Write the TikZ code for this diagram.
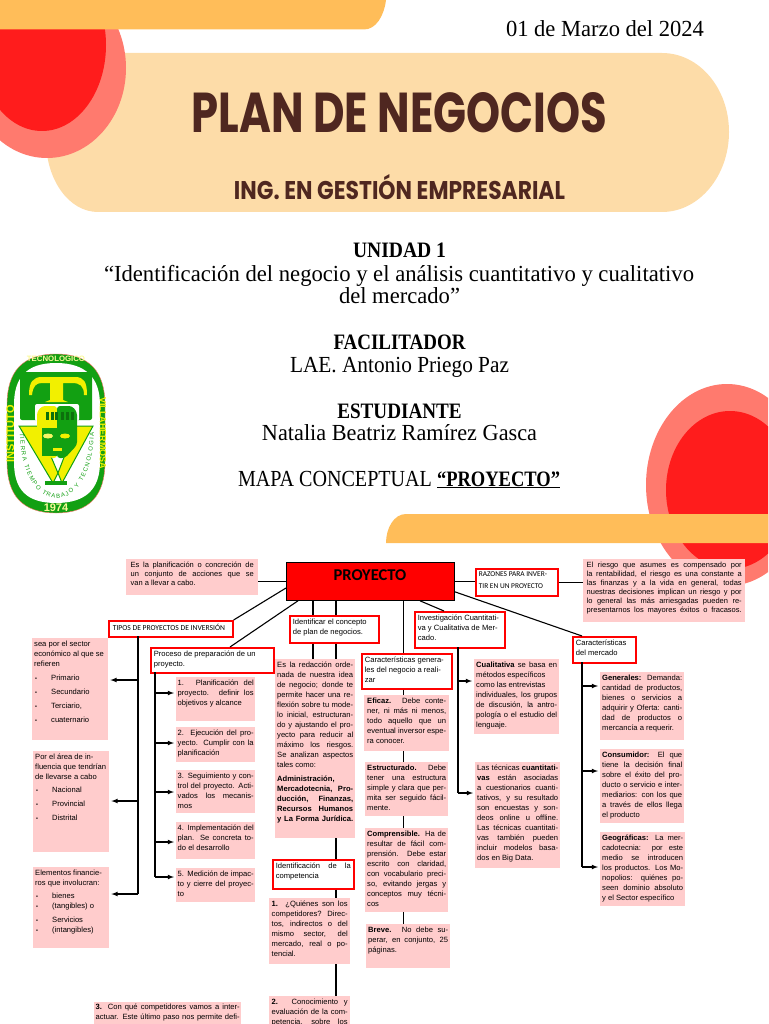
\documentclass[tikz,border=0pt]{standalone}
\usepackage{fontspec}
\usepackage{graphicx}
\usepackage{xcolor}
\usetikzlibrary{calc,decorations.text}
\setmainfont{Liberation Sans}
\newfontfamily\serifa{Liberation Serif}
\newfontfamily\calibri{Carlito}
\newfontfamily\titulo{Poppins}

\definecolor{naranja}{HTML}{FFBD59}
\definecolor{crema}{HTML}{FDDCA8}
\definecolor{salmon}{HTML}{FF7A6E}
\definecolor{rojo}{HTML}{FF1C1C}
\definecolor{rosa}{HTML}{FFCCCC}
\definecolor{cafe}{HTML}{4F2720}
\definecolor{verde}{HTML}{12A012}
\definecolor{amarillo}{HTML}{F2F000}

% one justified line of a box, one bullet line, one stretched line of the cover
\newcommand{\jl}[1]{\makebox[\linewidth][s]{#1}\par}
\newcommand{\bl}[1]{\makebox[17pt][l]{\kern1pt\fontsize{5.5}{5.5}\selectfont\textbullet}#1}
\newcommand{\ancho}[2]{\resizebox{#1pt}{\height}{#2}}

\tikzset{
  texto/.style 2 args={anchor=north west, inner xsep=3pt, inner ysep=3pt,
    font=\fontsize{7.6}{10}\selectfont, text=black,
    execute at begin node={\begin{minipage}[t][\dimexpr#2pt-6pt\relax][t]{\dimexpr#1pt-2\dimexpr\pgfkeysvalueof{/pgf/inner xsep}\relax\relax}},
    execute at end node={\end{minipage}}},
  caja/.style 2 args={texto={#1}{#2}, fill=rosa},
  marco/.style 2 args={texto={#1}{#2}, fill=white, draw=red, line width=1.6pt},
  linea/.style={black, line width=1.1pt},
  flecha/.style={linea, -latex, shorten >=2pt},
  portada/.style={anchor=base, inner sep=0pt, font=\serifa\fontsize{23}{23}\selectfont, text=black},
  negrita/.style={portada, font=\serifa\bfseries\fontsize{22}{22}\selectfont}
}

\begin{document}
\begin{tikzpicture}[x=1pt,y=-1pt]
  \clip[use as bounding box] (0,0) rectangle (768,1024);

  % Draw cover shapes
  \fill[crema] (662,53) .. controls (699,53) and (729,88) .. (729,132)
    .. controls (729,176) and (699,212) .. (662,212) -- (98,212)
    .. controls (69,212) and (46,180) .. (46,140) -- (46,53) -- cycle;
  \fill[salmon] (47,68) ellipse [x radius=79, y radius=90];
  \fill[rojo] (42,45) ellipse [x radius=64, y radius=86];
  \fill[naranja] (0,0) -- (386,0) .. controls (384,16) and (376,29.5) .. (364,29.5) -- (0,29.5) -- cycle;
  \fill[salmon] (727,485) ellipse [x radius=81, y radius=101];
  \fill[rojo] (730,490) ellipse [x radius=64, y radius=79];
  \fill[naranja] (768,514) -- (406,514) .. controls (394,514) and (386,528) .. (386,543) -- (768,543) -- cycle;

  % Cover texts
  \node[portada] (fecha) at (605,37) {\ancho{198}{01 de Marzo del 2024}};
  \node[anchor=center, inner sep=0pt, text=cafe] (plan) at (399.5,113)
    {\resizebox{415pt}{40pt}{\titulo\bfseries PLAN DE NEGOCIOS}};
  \node[anchor=base, inner sep=0pt, text=cafe] (carrera) at (399.5,199.5)
    {\resizebox{331pt}{25pt}{\titulo\bfseries ING. EN GESTIÓN EMPRESARIAL}};
  \node[negrita] (unidad) at (399.5,257) {\ancho{93}{UNIDAD 1}};
  \node[portada] (tema) at (399,281) {\ancho{590}{“Identificación del negocio y el análisis cuantitativo y cualitativo}};
  \node[portada] (tema2) at (399.5,303) {\ancho{121}{del mercado”}};
  \node[negrita] (facilitador) at (399.5,349) {\ancho{132}{FACILITADOR}};
  \node[portada] (antonio) at (399.5,372) {\ancho{219}{LAE. Antonio Priego Paz}};
  \node[negrita] (estudiante) at (399.5,418) {\ancho{124.5}{ESTUDIANTE}};
  \node[portada] (natalia) at (399.5,440) {\ancho{275}{Natalia Beatriz Ramírez Gasca}};
  \node[portada] (mapa) at (335,486) {\ancho{194}{MAPA CONCEPTUAL}};
  \node[negrita] (mapa2) at (498.5,486) {\ancho{123}{\underline{“PROYECTO”}}};

  % Draw logo
  \fill[verde, draw=salmon, line width=.4pt] (7,405) .. controls (7,372) and (22,354) .. (56,354)
    .. controls (90,354) and (105,372) .. (105,405) -- (105,462)
    .. controls (105,495) and (90,513) .. (56,513)
    .. controls (22,513) and (7,495) .. (7,462) -- cycle;
  \fill[white] (14,405) .. controls (14,378) and (26,363) .. (56,363)
    .. controls (86,363) and (100,378) .. (100,405) -- (100,462)
    .. controls (100,489) and (86,503) .. (56,503)
    .. controls (26,503) and (14,489) .. (14,462) -- cycle;
  \fill[verde, rounded corners=2pt] (20,372) rectangle (92,420);
  \fill[amarillo] (29,395) .. controls (29,382) and (33,377) .. (42,377) -- (75,377)
    .. controls (84,377) and (87,382) .. (87,395) -- (84,395)
    .. controls (84,386) and (80,383) .. (72,383) -- (63,383) -- (63,400) -- (68,402) -- (45,402) -- (50,400) -- (50,383)
    -- (42,383) .. controls (36,383) and (33,386) .. (32,395) -- cycle;
  \fill[white, rounded corners=2pt] (35,404) rectangle (79,421);
  % the V
  \filldraw[amarillo, draw=verde, line width=1pt] (19,426) -- (38,426) -- (58,473) -- (53,483) -- cycle;
  \filldraw[amarillo, draw=verde, line width=1pt] (93,426) -- (76,426) -- (58,473) -- (62,483) -- cycle;
  \fill[verde] (45,481) rectangle (67,485);
  % the face
  \fill[amarillo, rounded corners=3pt] (37,412) -- (37,445) -- (50,458) -- (57,458) -- (57,406) -- (42,406) -- cycle;
  \fill[verde, rounded corners=3pt] (57,406) -- (72,406) -- (77,412) -- (77,445) -- (65,458) -- (57,458) -- cycle;
  \fill[verde] (42,428) rectangle (57,456);
  \foreach \x in {46,51,55,61,66,71} {
    \fill[verde!70!black] (\x,412) rectangle ++(3,8);
  }
  \fill[amarillo] (65,436) ellipse [x radius=5, y radius=2.5];
  \fill[amarillo!60!white] (48,436) ellipse [x radius=5, y radius=2.5];
  \fill[amarillo] (53,448) rectangle (62,451);

  \node[font=\fontsize{7.8}{7.8}\selectfont\bfseries, text=amarillo!40!white, inner sep=0pt] (tecno) at (56,358.5) {TECNOLOGICO};
  \node[font=\fontsize{11}{11}\selectfont\bfseries, text=amarillo, rotate=90, inner sep=0pt] (instituto) at (10.3,434) {INSTITUTO};
  \node[font=\fontsize{9}{9}\selectfont\bfseries, text=amarillo, rotate=-90, inner sep=0pt] (villa) at (103,433) {VILLAHERMOSA};
  \node[font=\fontsize{11}{11}\selectfont\bfseries, text=amarillo!40!white, inner sep=0pt] (anio) at (56,508) {1974};
  \path[decorate, decoration={text along path, text align=fit to path,
      text={|\fontsize{6}{6}\selectfont\color{verde}|TIERRA TIEMPO TRABAJO Y TECNOLOGIA}}]
    (20,433) .. controls (21,520) and (92,520) .. (94,433);

  % Draw concept map nodes
  \node[fill=red, draw=black, line width=.8pt, minimum width=168pt, minimum height=38pt, inner sep=0pt, anchor=north west] (proyecto) at (286,562) {};
  \node[font=\calibri\bfseries\fontsize{16.5}{16.5}\selectfont, inner sep=0pt] (proyectoT) at (370,575) {PROYECTO};

  \node[caja={132}{36}, font=\fontsize{7.5}{8.9}\selectfont, inner xsep=4.5pt] (def) at (126,559) {
    \jl{Es la planificación o concreción de}
    \jl{un conjunto de acciones que se}
    van a llevar a cabo.};
  \node[marco={124}{16}, font=\calibri\fontsize{7.6}{8}\selectfont, inner xsep=4pt] (tipos) at (108,620) {TIPOS DE PROYECTOS DE INVERSIÓN};
  \node[marco={82}{27}, font=\calibri\fontsize{7.4}{11.5}\selectfont] (razones) at (475,568) {
    RAZONES PARA INVER-\\TIR EN UN PROYECTO};
  \node[caja={162}{63}, font=\fontsize{7.5}{8.9}\selectfont, inner xsep=3.5pt] (riesgo) at (583,559) {
    \jl{El riesgo que asumes es compensado por}
    \jl{la rentabilidad, el riesgo es una constante a}
    \jl{las finanzas y a la vida en general, todas}
    \jl{nuestras decisiones implican un riesgo y por}
    \jl{lo general las más arriesgadas pueden re-}
    \jl{presentarnos los mayores éxitos o fracasos.}};

  \node[caja={76}{102}, inner xsep=2pt] (sea) at (32,638) {
    sea por el sector\\económico al que se\\refieren\\[4pt]
    \bl{Primario}\\[4pt]\bl{Secundario}\\[4pt]\bl{Terciario,}\\[4pt]\bl{cuaternario}};
  \node[caja={76}{101}, inner xsep=2pt] (area) at (33,751) {
    Por el área de in-\\fluencia que tendrían\\de llevarse a cabo\\[3pt]
    \bl{Nacional}\\[4pt]\bl{Provincial}\\[4pt]\bl{Distrital}};
  \node[caja={76}{81}, inner xsep=2pt] (financieros) at (33,867) {
    Elementos financie-\\ros que involucran:\\[3pt]
    \bl{bienes}\\\bl{(tangibles) o}\\[4pt]\bl{Servicios}\\\bl{(intangibles)}};

  \node[marco={123}{25}] (proceso) at (150,647) {Proceso de preparación de un\\proyecto.};
  \node[caja={79}{44}, inner xsep=1.5pt] (plan1) at (176,677) {
    \jl{1. Planificación del}\jl{proyecto. definir los}objetivos y alcance};
  \node[caja={79}{35}, inner xsep=1.5pt] (plan2) at (176,727) {
    \jl{2. Ejecución del pro-}\jl{yecto. Cumplir con la}planificación};
  \node[caja={79}{43}, inner xsep=1.5pt] (plan3) at (176,770) {
    \jl{3. Seguimiento y con-}\jl{trol del proyecto. Acti-}\jl{vados los mecanis-}mos};
  \node[caja={79}{37}, inner xsep=1.5pt] (plan4) at (176,822) {
    \jl{4. Implementación del}\jl{plan. Se concreta to-}do el desarrollo};
  \node[caja={79}{34}, inner xsep=1.5pt] (plan5) at (176,868) {
    \jl{5. Medición de impac-}\jl{to y cierre del proyec-}to};

  \node[marco={89}{27}] (concepto) at (289,615) {Identificar el concepto\\de plan de negocios.};
  \node[caja={80}{179}, inner xsep=2pt] (redaccion) at (275,659) {
    \jl{Es la redacción orde-}
    \jl{nada de nuestra idea}
    \jl{de negocio; donde te}
    \jl{permite hacer una re-}
    \jl{flexión sobre tu mode-}
    \jl{lo inicial, estructuran-}
    \jl{do y ajustando el pro-}
    \jl{yecto para reducir al}
    \jl{máximo los riesgos.}
    \jl{Se analizan aspectos}
    tales como:\par\vspace{4pt}\bfseries
    Administración,\par
    \jl{Mercadotecnia, Pro-}
    \jl{ducción, Finanzas,}
    \jl{Recursos Humanos}
    \jl{y La Forma Jurídica.}};
  \node[marco={81}{29}, inner xsep=3pt] (competencia) at (272,859) {
    \jl{Identificación de la}competencia};
  \node[caja={81}{66}, inner xsep=2.5pt] (quienes) at (269,898) {
    \jl{\textbf{1.} ¿Quiénes son los}
    \jl{competidores? Direc-}
    \jl{tos, indirectos o del}
    \jl{mismo sector, del}
    \jl{mercado, real o po-}
    tencial.};
  \node[caja={81}{40}, inner xsep=2.5pt] (conocimiento) at (269,996) {
    \jl{\textbf{2.} Conocimiento y}
    \jl{evaluación de la com-}
    \jl{petencia, sobre los}};
  \node[caja={147}{30}, inner xsep=1.5pt, inner ysep=2pt] (interactuar) at (94,1002) {
    \jl{\textbf{3.} Con qué competidores vamos a inter-}
    \jl{actuar. Este último paso nos permite defi-}};

  \node[marco={90}{35}] (generales) at (361,653) {Características genera-\\les del negocio a reali-\\zar};
  \node[caja={85}{56}] (eficaz) at (364,695) {
    \jl{\textbf{Eficaz.} Debe conte-}
    \jl{ner, ni más ni menos,}
    \jl{todo aquello que un}
    \jl{eventual inversor espe-}
    ra conocer.};
  \node[caja={83}{54}, inner xsep=2pt] (estructurado) at (365,762) {
    \jl{\textbf{Estructurado.} Debe}
    \jl{tener una estructura}
    \jl{simple y clara que per-}
    \jl{mita ser seguido fácil-}
    mente.};
  \node[caja={83}{84}, inner xsep=2pt] (comprensible) at (365,828) {
    \jl{\textbf{Comprensible.} Ha de}
    \jl{resultar de fácil com-}
    \jl{prensión. Debe estar}
    \jl{escrito con claridad,}
    \jl{con vocabulario preci-}
    \jl{so, evitando jergas y}
    \jl{conceptos muy técni-}
    cos};
  \node[caja={84}{44}, inner xsep=2pt] (breve) at (366,924) {
    \jl{\textbf{Breve.} No debe su-}
    \jl{perar, en conjunto, 25}
    páginas.};

  \node[marco={90}{36}] (investigacion) at (414,611) {Investigación Cuantitati-\\va y Cualitativa de Mer-\\cado.};
  \node[caja={85}{75}, inner xsep=2pt] (cualitativa) at (474,659) {
    \jl{\textbf{Cualitativa} se basa en}
    métodos específicos\\
    como las entrevistas\\
    \jl{individuales, los grupos}
    \jl{de discusión, la antro-}
    \jl{pología o el estudio del}
    lenguaje.};
  \node[caja={85}{106}, inner xsep=2pt] (cuantitativa) at (475,762) {
    \jl{Las técnicas \textbf{cuantitati-}}
    \jl{\textbf{vas} están asociadas}
    \jl{a cuestionarios cuanti-}
    \jl{tativos, y su resultado}
    \jl{son encuestas y son-}
    \jl{deos online u offline.}
    \jl{Las técnicas cuantitati-}
    \jl{vas también pueden}
    \jl{incluir modelos basa-}
    dos en Big Data.};

  \node[marco={63}{26}] (mercado) at (572,636) {Características\\del mercado};
  \node[caja={84}{68}, inner xsep=2pt] (demanda) at (600,672) {
    \jl{\textbf{Generales:} Demanda:}
    \jl{cantidad de productos,}
    \jl{bienes o servicios a}
    \jl{adquirir y Oferta: canti-}
    \jl{dad de productos o}
    mercancía a requerir.};
  \node[caja={84}{74}, inner xsep=2pt] (consumidor) at (600,749) {
    \jl{\textbf{Consumidor:} El que}
    \jl{tiene la decisión final}
    \jl{sobre el éxito del pro-}
    \jl{ducto o servicio e inter-}
    \jl{mediarios: con los que}
    \jl{a través de ellos llega}
    el producto};
  \node[caja={85}{74}, inner xsep=2pt] (geograficas) at (600,832) {
    \jl{\textbf{Geográficas:} La mer-}
    \jl{cadotecnia: por este}
    \jl{medio se introducen}
    \jl{los productos. Los Mo-}
    \jl{nopolios: quiénes po-}
    \jl{seen dominio absoluto}
    y el Sector específico};

  % Named points on the map
  \coordinate (ejeA) at (313,600);
  \coordinate (ejeB) at (336,600);
  \coordinate (ejeC) at (403.5,600);
  \coordinate (ejeTipos) at (138,636);
  \coordinate (ejeProceso) at (155,672);
  \coordinate (ejeInv) at (458,647);
  \coordinate (ejeMer) at (582,662);

  % Draw connectors
  \draw[linea] (proyecto.west) -- (proyecto.west -| def.east);
  \draw[linea] (proyecto.east) -- (proyecto.east -| razones.west);
  \draw[linea] (razones.east) -- (razones.east -| riesgo.west);
  \draw[linea] (tipos.north east) -- ($(proyecto.north west)+(0,26)$);
  \draw[linea] ($(proceso.north west)+(80,0)$) -- ($(proyecto.south west)+(12,0)$);
  \draw[linea] (ejeA) -- (ejeA |- concepto.north);
  \draw[linea] (ejeB) -- (ejeB |- concepto.north);
  \draw[linea] (ejeA |- concepto.south) -- (ejeA |- redaccion.north);
  \draw[linea] (ejeB |- concepto.south) -- (ejeB |- redaccion.north);
  \draw[linea] (ejeB |- redaccion.south) -- (ejeB |- competencia.north);
  \draw[linea] (ejeB |- competencia.south) -- (ejeB |- quienes.north);
  \draw[linea] (ejeB |- quienes.south) -- (ejeB |- conocimiento.north);
  \draw[linea] (ejeC) -- (ejeC |- generales.north);
  \draw[linea] (ejeC |- generales.south) -- (ejeC |- eficaz.north);
  \draw[linea] (ejeC |- eficaz.south) -- (ejeC |- estructurado.north);
  \draw[linea] (ejeC |- estructurado.south) -- (ejeC |- comprensible.north);
  \draw[linea] (ejeC |- comprensible.south) -- (ejeC |- breve.north);
  \draw[linea] ($(proyecto.south west)+(134,0)$) -- ($(investigacion.north west)+(30,0)$);
  \draw[linea] ($(proyecto.south east)+(0,-9)$) -- ($(mercado.north west)+(10,0)$);

  % Draw trunks with arrows
  \draw[linea] (ejeTipos) -- (138,894);
  \foreach \y/\dest in {680/sea,801/area,894/financieros} {
    \coordinate (p) at (138,\y);
    \draw[flecha] (p) -- (p -| \dest.east);
  }
  \draw[linea] (ejeProceso) -- (155,877);
  \foreach \y/\dest in {693/plan1,743/plan2,792/plan3,842/plan4,877/plan5} {
    \coordinate (p) at (155,\y);
    \draw[flecha] (p) -- (p -| \dest.west);
  }
  \draw[linea] (ejeInv) -- (458,793);
  \foreach \y/\dest in {681/cualitativa,793/cuantitativa} {
    \coordinate (p) at (458,\y);
    \draw[flecha] (p) -- (p -| \dest.west);
  }
  \draw[linea] (ejeMer) -- (582,867);
  \foreach \y/\dest in {686/demanda,771/consumidor,867/geograficas} {
    \coordinate (p) at (582,\y);
    \draw[flecha] (p) -- (p -| \dest.west);
  }
\end{tikzpicture}
\end{document}
